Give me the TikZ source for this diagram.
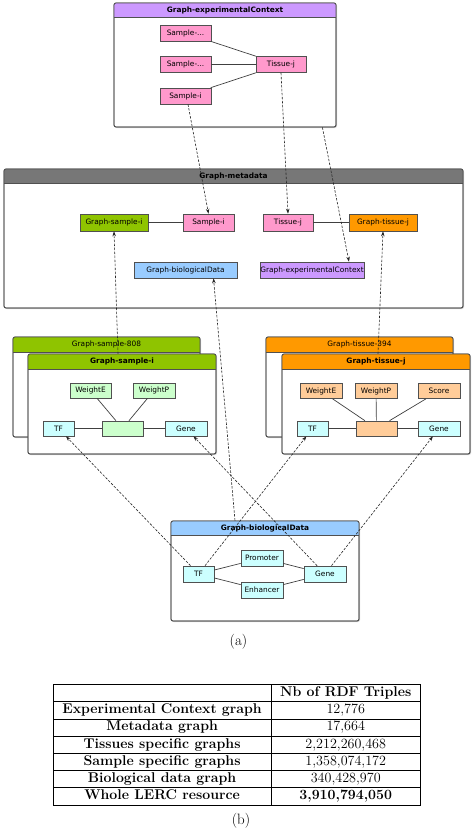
\documentclass[tikz,border=0pt]{standalone}
\usepackage{fontspec}
\newfontfamily\dv{DejaVu Sans}
\usetikzlibrary{arrows.meta,calc,fit,shadows}
\definecolor{pinkc}{HTML}{FF99CC}
\definecolor{purplec}{HTML}{CC99FF}
\definecolor{grayc}{HTML}{777777}
\definecolor{greenc}{HTML}{8FC400}
\definecolor{lgreenc}{HTML}{CCFFCC}
\definecolor{orangec}{HTML}{FF9900}
\definecolor{lorangec}{HTML}{FFCC99}
\definecolor{cyanc}{HTML}{CCFFFF}
\definecolor{bluec}{HTML}{99CCFF}
\definecolor{frc}{HTML}{505050}
\definecolor{bxc}{HTML}{505050}
\newcommand\gframe[9]{%
  \node[frame, fit={(#2,#3) (#4,#5)}] (#1) {};
  \begin{scope}
    \clip[rounded corners=2pt] (#2,#3) rectangle (#4,#5);
    \fill[#7] (#2,#3) rectangle (#4,#6);
  \end{scope}
  \draw[fline] (#2,#6) -- (#4,#6);
  \draw[fline, rounded corners=2pt] (#2,#3) rectangle (#4,#5);
  \node[#9] (#1t) at ({(#2+#4)/2},{(#3+#6)/2}) {#8};
}
\begin{document}
\begin{tikzpicture}[x=1pt,y=-1pt,
  frame/.style={draw=frc, line width=0.8pt, rounded corners=2pt, fill=white, inner sep=0pt,
    drop shadow={shadow xshift=1pt, shadow yshift=-1pt, opacity=0.3}},
  fline/.style={draw=frc, line width=0.8pt},
  htb/.style={inner sep=0pt, font=\dv\bfseries\fontsize{7.4}{8}\selectfont},
  htr/.style={inner sep=0pt, font=\dv\fontsize{7.4}{8}\selectfont},
  box/.style={draw=bxc, line width=0.6pt, inner sep=0pt, minimum height=16, font=\dv\fontsize{7.4}{8}\selectfont},
  con/.style={draw=black!75, line width=0.7pt},
  darr/.style={draw=black!85, line width=0.6pt, dash pattern=on 2.5pt off 1.5pt, -{Stealth[length=5pt,width=3.5pt]}}
]
\fill[white] (0,0) rectangle (474,833);
\useasboundingbox (0,0) rectangle (474,833);

% experimental context
\gframe{expF}{114}{3}{336}{127}{17}{purplec}{Graph-experimentalContext}{htb}
\node[box, fill=pinkc, minimum width=51] (e1) at (185.5,33) {Sample-...};
\node[box, fill=pinkc, minimum width=51] (e2) at (185.5,64.5) {Sample-...};
\node[box, fill=pinkc, minimum width=51] (eSi) at (185.5,96) {Sample-i};
\node[box, fill=pinkc, minimum width=50] (eTj) at (281,64.5) {Tissue-j};
\draw[con] (e1) -- (eTj);
\draw[con] (e2) -- (eTj);
\draw[con] (eSi) -- (eTj);

% metadata
\gframe{metaF}{4}{169}{463}{308}{183}{grayc}{Graph-metadata}{htb}
\node[box, fill=greenc, minimum width=68, minimum height=17] (mGSi) at (114,222.5) {Graph-sample-i};
\node[box, fill=pinkc, minimum width=51, minimum height=17] (mSi) at (208.5,222.5) {Sample-i};
\node[box, fill=pinkc, minimum width=50, minimum height=17] (mTj) at (288,222.5) {Tissue-j};
\node[box, fill=orangec, minimum width=68, minimum height=17] (mGTj) at (383,222.5) {Graph-tissue-j};
\node[box, fill=bluec, minimum width=103] (mGBD) at (185.5,270) {Graph-biologicalData};
\node[box, fill=purplec, minimum width=104] (mGEC) at (312,270) {Graph-experimentalContext};
\draw[con] (mGSi) -- (mSi);
\draw[con] (mTj) -- (mGTj);

\draw[darr] ($(eSi.south)+(2.5,0)$) -- (mSi.north);
\draw[darr] (eTj.south) -- (mTj.north);
\coordinate (expFa) at ($(expF.south east)+(-14,0)$);
\draw[darr] (expFa) -- ($(mGEC.north)+(37,0)$);

% sample graphs
\gframe{s808}{13}{337}{200}{437}{352}{greenc}{Graph-sample-808}{htr}
\coordinate (s808a) at (118,354);
\draw[darr] (s808a) -- (mGSi.south);
\gframe{sF}{28}{354}{216}{454}{369}{greenc}{Graph-sample-i}{htb}
\node[box, fill=lgreenc, minimum width=41, minimum height=15] (sWE) at (90.5,390.5) {WeightE};
\node[box, fill=lgreenc, minimum width=42, minimum height=15] (sWP) at (154,390.5) {WeightP};
\node[box, fill=cyanc, minimum width=31, minimum height=15] (sTF) at (58.5,428.5) {TF};
\node[box, fill=lgreenc, minimum width=41, minimum height=15] (sM) at (122.5,428.5) {};
\node[box, fill=cyanc, minimum width=42, minimum height=15] (sG) at (186,428.5) {Gene};
\draw[con] (sWE) -- (sM);
\draw[con] (sWP) -- (sM);
\draw[con] (sTF) -- (sM);
\draw[con] (sM) -- (sG);

% tissue graphs
\gframe{t394}{266}{337}{453}{437}{352}{orangec}{Graph-tissue-394}{htr}
\coordinate (t394a) at (378,354);
\draw[darr] (t394a) -- (mGTj.south);
\gframe{tF}{282}{354}{470}{454}{369}{orangec}{Graph-tissue-j}{htb}
\node[box, fill=lorangec, minimum width=42, minimum height=15] (tWE) at (321,391) {WeightE};
\node[box, fill=lorangec, minimum width=42, minimum height=15] (tWP) at (376,391) {WeightP};
\node[box, fill=lorangec, minimum width=42, minimum height=15] (tSc) at (439,391) {Score};
\node[box, fill=cyanc, minimum width=31, minimum height=15] (tTF) at (312.5,428.5) {TF};
\node[box, fill=lorangec, minimum width=41, minimum height=15] (tM) at (376.5,428.5) {};
\node[box, fill=cyanc, minimum width=42, minimum height=15] (tG) at (439,428.5) {Gene};
\draw[con] (tWE) -- (tM);
\draw[con] (tWP) -- (tM);
\draw[con] (tSc) -- (tM);
\draw[con] (tTF) -- (tM);
\draw[con] (tM) -- (tG);

% biological data
\gframe{bF}{171}{521}{359}{621}{535}{bluec}{Graph-biologicalData}{htb}
\node[box, fill=cyanc, minimum width=31] (bTF) at (198.5,574) {TF};
\node[box, fill=cyanc, minimum width=42] (bP) at (262,558) {Promoter};
\node[box, fill=cyanc, minimum width=42] (bE) at (262,590) {Enhancer};
\node[box, fill=cyanc, minimum width=42] (bG) at (325,574) {Gene};
\draw[con] (bTF) -- (bP);
\draw[con] (bTF) -- (bE);
\draw[con] (bP) -- (bG);
\draw[con] (bE) -- (bG);

\coordinate (bFa) at ($(bF.north)+(-30,0)$);
\draw[darr] (bFa) -- ($(mGBD.south)+(28,0)$);
\draw[darr] (bTF) -- (sTF);
\draw[darr] (bTF) -- (tTF);
\draw[darr] (bG) -- (sG);
\draw[darr] (bG) -- (tG);

\node[inner sep=0pt] (la) at (238.5,642) {\fontsize{15}{18}\selectfont (a)};

% table
\node[anchor=north west, inner sep=0pt] (tbl) at (53,684) {%
  \fontsize{14.1}{16.4}\selectfont\setlength\tabcolsep{9.2pt}\setlength\arrayrulewidth{0.8pt}%
  \begin{tabular}{|c|c|}
  \hline
   & \textbf{Nb of RDF Triples}\\ \hline
  \textbf{Experimental Context graph} & 12,776\\ \hline
  \textbf{Metadata graph} & 17,664\\ \hline
  \textbf{Tissues specific graphs} & 2,212,260,468\\ \hline
  \textbf{Sample specific graphs} & 1,358,074,172\\ \hline
  \textbf{Biological data graph} & 340,428,970\\ \hline
  \textbf{Whole LERC resource} & \textbf{3,910,794,050}\\ \hline
  \end{tabular}};
\node[inner sep=0pt] (lb) at (241,821) {\fontsize{15}{18}\selectfont (b)};
\end{tikzpicture}
\end{document}
